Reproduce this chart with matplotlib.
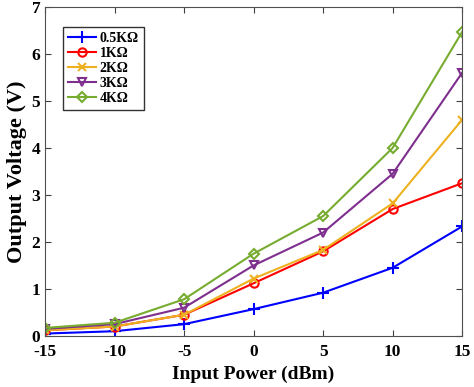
import matplotlib
matplotlib.use('Agg')
import matplotlib.pyplot as plt

# datos
potencia = [-15, -10, -5, 0, 5, 10, 15]
v_05k = [0.05, 0.10, 0.25, 0.57, 0.92, 1.45, 2.33]
v_1k = [0.12, 0.20, 0.45, 1.12, 1.80, 2.70, 3.25]
v_2k = [0.12, 0.20, 0.45, 1.22, 1.83, 2.82, 4.60]
v_3k = [0.15, 0.25, 0.60, 1.50, 2.20, 3.45, 5.60]
v_4k = [0.17, 0.28, 0.78, 1.75, 2.55, 4.00, 6.47]
etiquetas = ['0.5KΩ', '1KΩ', '2KΩ', '3KΩ', '4KΩ']

plt.rcParams['font.family'] = ['Liberation Serif', 'DejaVu Serif']
plt.rcParams['font.weight'] = 'bold'
plt.rcParams['axes.unicode_minus'] = False

fig = plt.figure(figsize=(4.74, 3.87), dpi=100)
ax = fig.add_axes([0.095, 0.132, 0.88, 0.85])

series = [v_05k, v_1k, v_2k, v_3k, v_4k]
colores = ['#0000ff', '#ff0000', '#edb120', '#7e2f8e', '#77ac30']
marcadores = ['+', 'o', 'x', 'v', 'D']
tamanos = [8, 6, 6, 6, 5]
for valores, color, marca, tam, etiqueta in zip(series, colores, marcadores, tamanos, etiquetas):
    ax.plot(potencia, valores, color=color, marker=marca, markersize=tam,
            markerfacecolor='none', markeredgewidth=1.5, linewidth=1.5, label=etiqueta)

ax.set_xlim(-15, 15)
ax.set_ylim(0, 7)
ax.set_xticks(potencia)
ax.set_yticks(range(8))
ax.tick_params(direction='in', top=True, right=True, labelsize=12.5, length=4,
               color='#404040')
ax.tick_params(axis='x', pad=6)
for s in ax.spines.values():
    s.set_color('#505050')
ax.set_xlabel('Input Power (dBm)', fontsize=14, fontweight='bold', labelpad=4)
ax.set_ylabel('Output Voltage (V)', fontsize=16, fontweight='bold', labelpad=3)
leg = ax.legend(loc='upper left', bbox_to_anchor=(0.043, 0.94), fontsize=10,
                fancybox=False, edgecolor='black', handlelength=2.0,
                labelspacing=0.15, borderpad=0.35, handletextpad=0.3,
                borderaxespad=0)
leg.get_frame().set_linewidth(1.0)

fig.savefig('out.png', dpi=100)
